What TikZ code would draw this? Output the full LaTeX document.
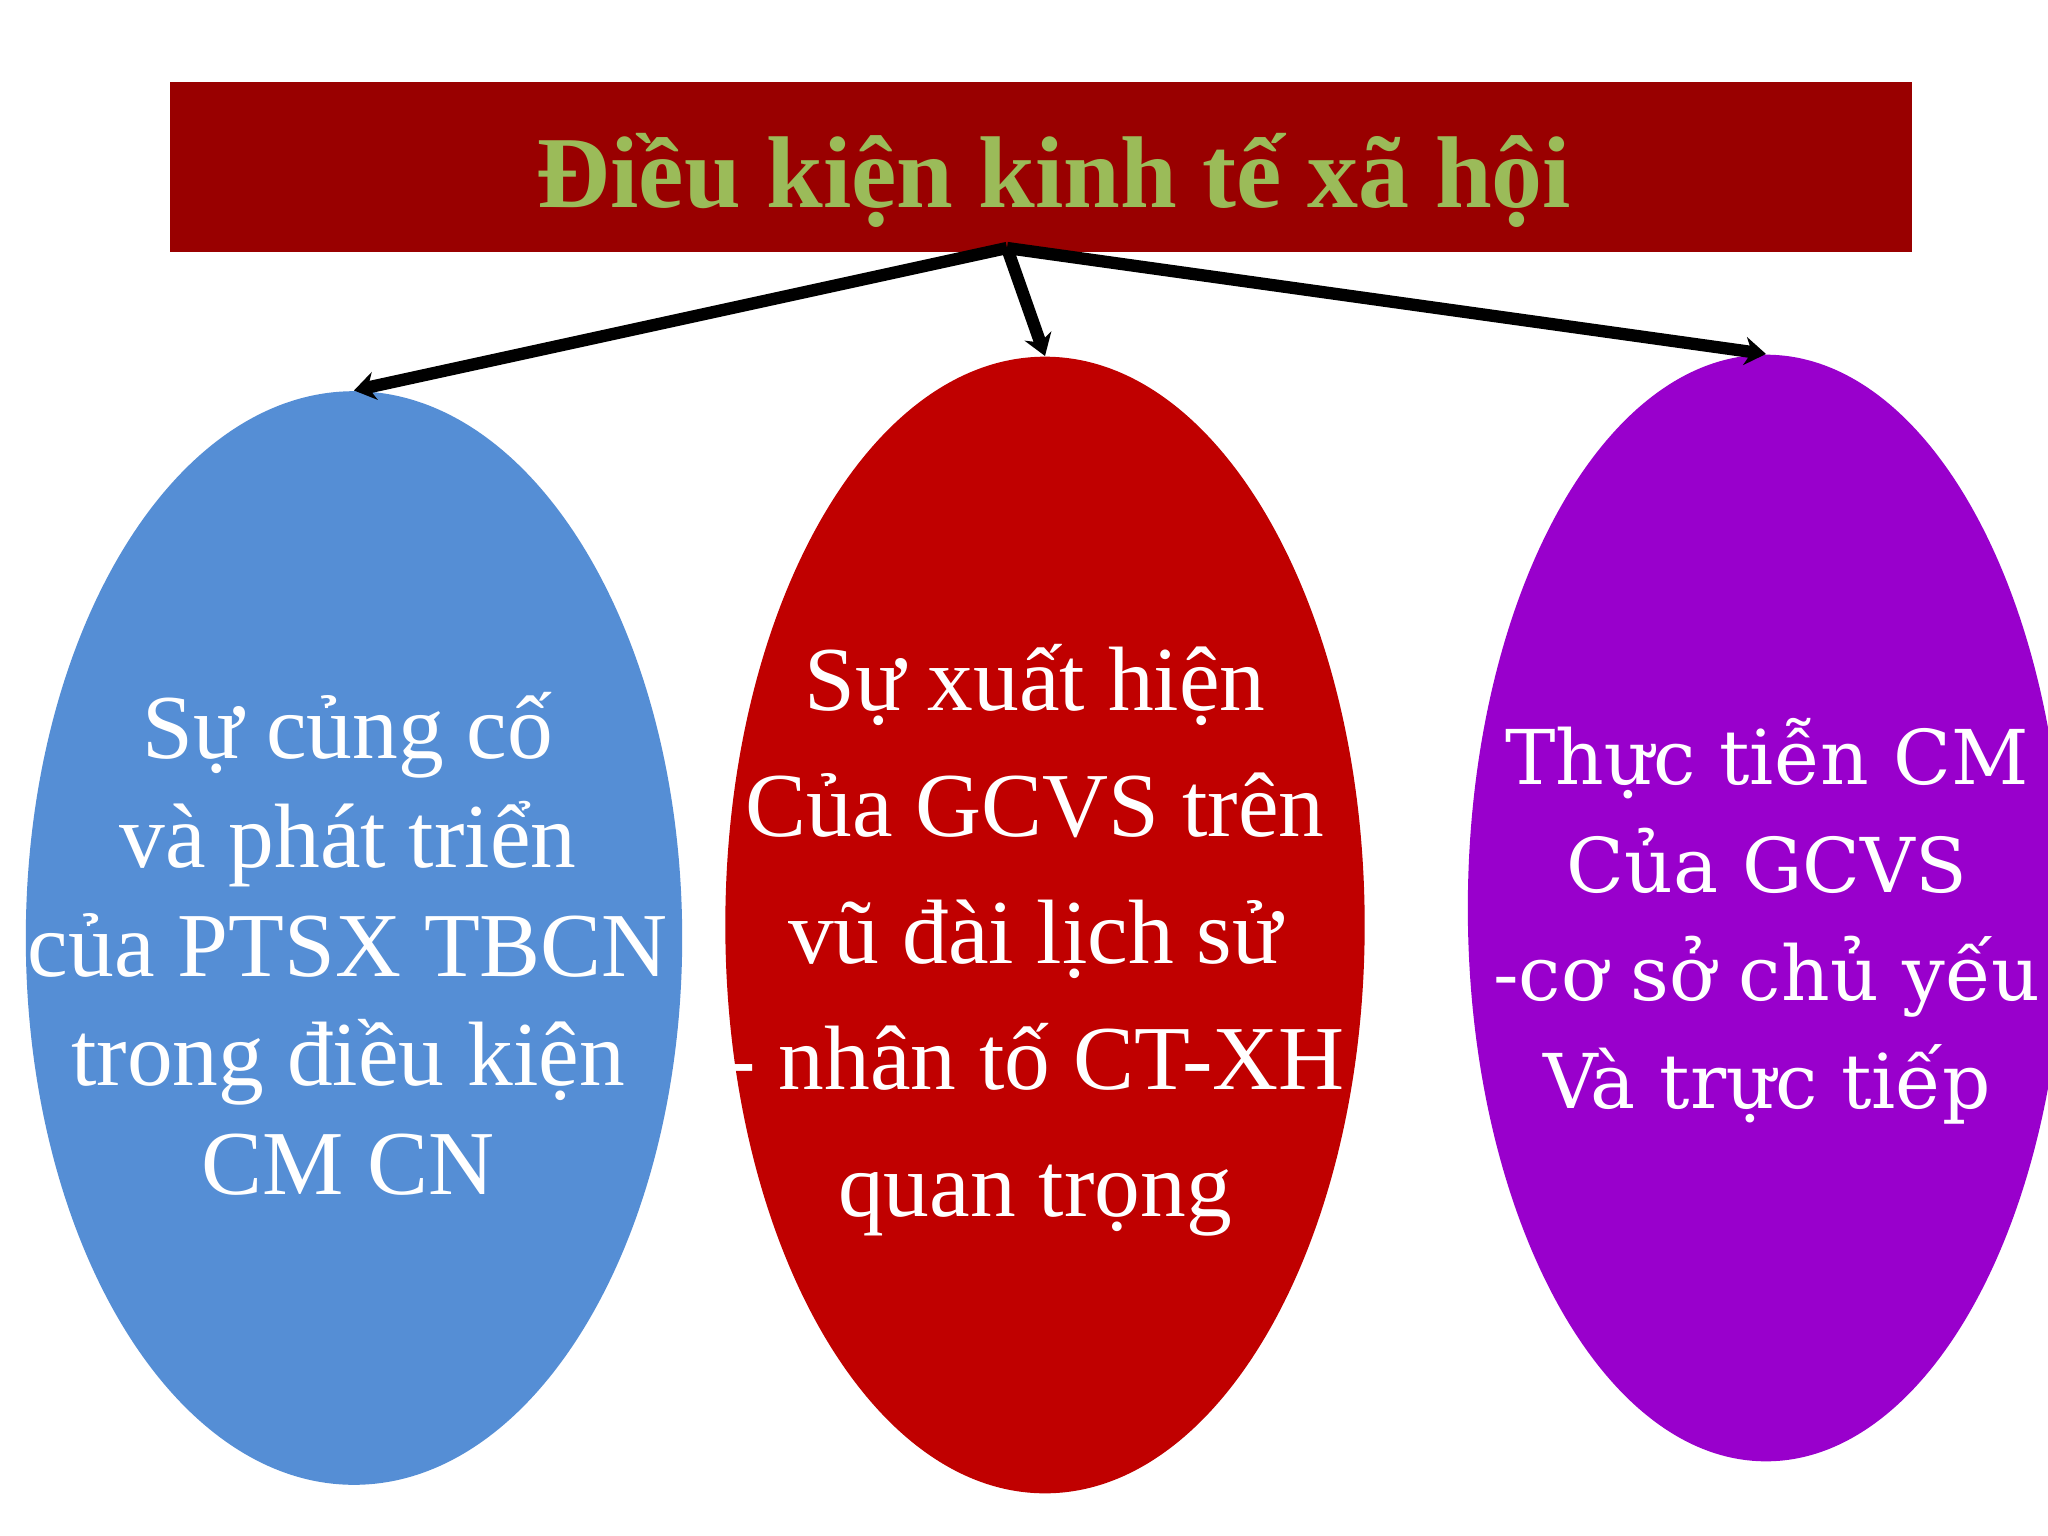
\documentclass[tikz,border=0pt]{standalone}
\usepackage{fontspec}
\setmainfont{Liberation Serif}
\newfontfamily\wideserif{DejaVu Serif}
\usetikzlibrary{shapes.geometric,arrows.meta}
\definecolor{barred}{HTML}{990000}
\definecolor{titlegreen}{HTML}{9BBB59}
\definecolor{blobblue}{HTML}{558ED5}
\definecolor{blobred}{HTML}{C00000}
\definecolor{blobpurple}{HTML}{9900CC}
\tikzset{
  blob/.style={ellipse, inner sep=0pt, draw=none},
  blobtext/.style={text=white, align=center, inner sep=0pt},
  link/.style={-{Stealth[length=6pt,width=8pt]}, line width=3.5pt, black}
}
\begin{document}
\begin{tikzpicture}[x=0.01cm,y=-0.01cm]
  \useasboundingbox (0,0) rectangle (2048,1536);
  \clip (0,0) rectangle (2048,1536);
  \fill[white] (0,0) rectangle (2048,1536);
  \node[fill=barred, minimum width=17.41cm, minimum height=1.70cm, text=titlegreen,
        text height=26pt, text depth=3.2pt,
        font=\fontsize{29}{34}\selectfont\bfseries] (title) at (1041,167) {\hspace*{7.4pt}Điều kiện kinh tế xã hội};
  \draw
    (354,938) node[blob, fill=blobblue, minimum width=6.56cm, minimum height=10.93cm] (cungco){}
    (1045,925) node[blob, fill=blobred, minimum width=6.39cm, minimum height=11.36cm] (xuathien){}
    (1766,908) node[blob, fill=blobpurple, minimum width=5.96cm, minimum height=11.06cm] (thuctien){};
  \node[blobtext, font=\fontsize{26}{31}\selectfont] (cungcotext) at (348,944)
    {Sự củng cố\\và phát triển\\của PTSX TBCN\\trong điều kiện\\CM CN};
  \node[blobtext, font=\fontsize{26}{36}\selectfont] (xuathientext) at (1035,940)
    {Sự xuất hiện\\Của GCVS trên\\vũ đài lịch sử\\- nhân tố CT-XH\\quan trọng};
  \node[blobtext, font=\wideserif\fontsize{21.5}{30.7}\selectfont] (thuctientext) at (1767,921)
    {Thực tiễn CM\\Của GCVS\\-cơ sở chủ yếu\\Và trực tiếp};
  \coordinate (root) at (1007,248);
  \begin{scope}[link]
    \draw (root) to (cungco.north);
    \draw (root) to (xuathien.north);
    \draw (root) to (thuctien.north);
  \end{scope}
\end{tikzpicture}
\end{document}
